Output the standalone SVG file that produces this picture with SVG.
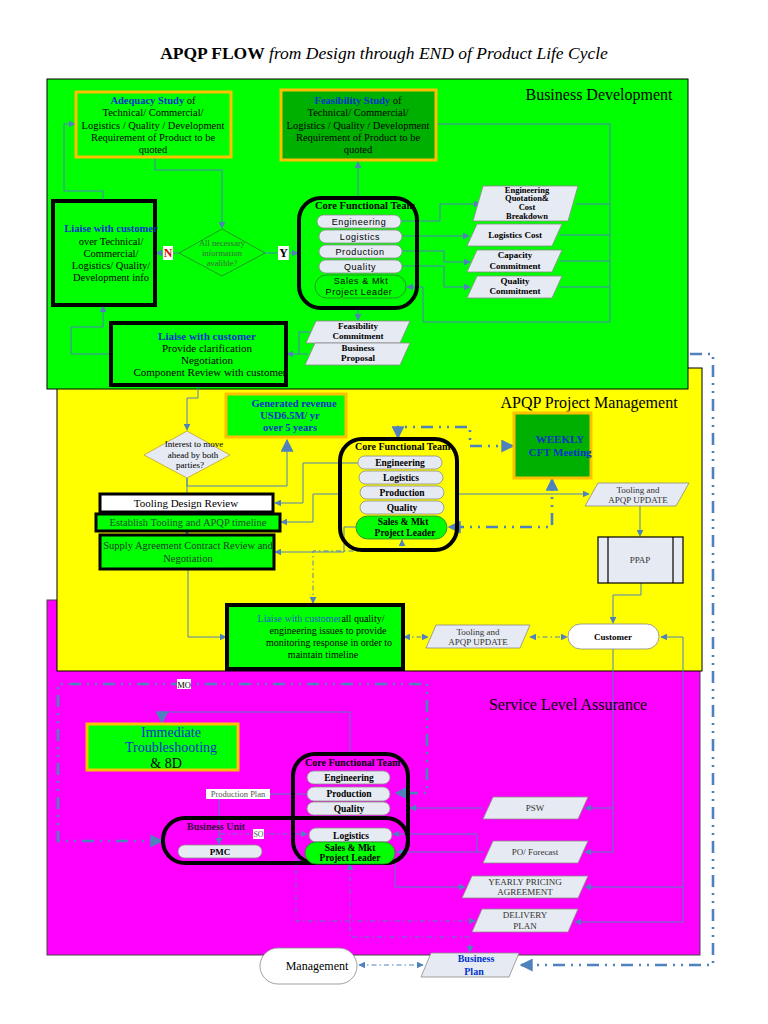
<svg xmlns="http://www.w3.org/2000/svg" width="768" height="1024" viewBox="0 0 768 1024">
<defs>
<style>
text{font-family:"Liberation Serif","Times New Roman",serif;fill:#000}
.ss{font-family:"Liberation Sans",Arial,sans-serif;letter-spacing:0.6px}
.m{text-anchor:middle}
.b{font-weight:bold}
.blue{fill:#0033CC}
.c{fill:none;stroke:#4F81BD;stroke-width:1}
.dd{stroke-dasharray:5 3 1.5 3}
.tk{stroke-width:2.6;stroke-dasharray:12 6 2 6 2 6}
.pill{fill:#E6EAF2;stroke:#8C8C8C;stroke-width:0.8}
.gp{fill:#00FF00;stroke:#2E7D32;stroke-width:0.8}
.par{fill:#E6EAF2;stroke:#8C8C8C;stroke-width:0.8}
.gold{stroke:#FFC000;stroke-width:3}
.blk{stroke:#000;stroke-width:4}
.team{fill:none;stroke:#000;stroke-width:4}
</style>
<marker id="a" viewBox="0 0 10 10" refX="9" refY="5" markerWidth="7" markerHeight="7" markerUnits="userSpaceOnUse" orient="auto-start-reverse"><path d="M0,0 L10,5 L0,10 z" fill="#4F81BD"/></marker>
<marker id="ab" viewBox="0 0 10 10" refX="9" refY="5" markerWidth="13" markerHeight="13" markerUnits="userSpaceOnUse" orient="auto-start-reverse"><path d="M0,0 L10,5 L0,10 z" fill="#4F81BD"/></marker>
</defs>
<rect width="768" height="1024" fill="#fff"/>

<text x="384" y="59" class="m" font-size="17.5"><tspan font-weight="bold">APQP FLOW</tspan><tspan font-style="italic"> from Design through END of Product Life Cycle</tspan></text>

<g id="regions">
<rect x="47" y="600" width="653" height="355" fill="#FF00FF" stroke="#444" stroke-width="1"/>
<rect x="57" y="368" width="645" height="303" fill="#FFFF00" stroke="#000" stroke-width="1"/>
<rect x="47" y="79" width="641" height="310" fill="#00FF00" stroke="#000" stroke-width="1"/>
<text x="599" y="100" class="m" font-size="16">Business Development</text>
<text x="589" y="408" class="m" font-size="16">APQP Project Management</text>
<text x="568" y="710" class="m" font-size="16">Service Level Assurance</text>
</g>

<g id="connectors">
<!-- Business Development -->
<path class="c" d="M155,158 V170 H222 V228" marker-end="url(#a)"/>
<path class="c" d="M103,201 V191 H64 V124 H75" marker-end="url(#a)"/>
<path class="c" d="M179,253 H156" marker-end="url(#a)"/>
<path class="c" d="M265,253 H298" marker-end="url(#a)"/>
<path class="c" d="M358,198 V162" marker-end="url(#a)"/>
<path class="c" d="M401,221 H440 V204 H480" marker-end="url(#a)"/>
<path class="c" d="M402,236 H469" marker-end="url(#a)"/>
<path class="c" d="M402,251 H444 V262 H470" marker-end="url(#a)"/>
<path class="c" d="M402,266 H444 V287 H470" marker-end="url(#a)"/>
<path class="c" d="M576,204 H610 M560,235 H610 M560,261 H610 M560,287 H610"/>
<path class="c" d="M436,124 H610 V322 H423 V287 H407" marker-end="url(#a)"/>
<path class="c" d="M358,308 V320" marker-end="url(#a)"/>
<path class="c" d="M311,332 H299 V354"/>
<path class="c" d="M308,354 H287" marker-end="url(#a)"/>
<path class="c" d="M110,354 H71 V327 H103 V306" marker-end="url(#a)"/>
<path class="c" d="M198,386 V398 H187 V430" marker-end="url(#a)"/>
<!-- APQP Project Management -->
<path class="c" d="M187,478 V486 H287 V440" stroke-width="3" marker-end="url(#ab)"/>
<path class="c" d="M187,478 V493"/>
<path class="c" d="M187,509 V515" marker-end="url(#a)"/>
<path class="c" d="M187,528 V535" marker-end="url(#a)"/>
<path class="c" d="M358,463 H303 V503 H275" marker-end="url(#a)"/>
<path class="c" d="M340,494 H313 V522 H281" marker-end="url(#a)"/>
<path class="c" d="M356,527 H344 V552 H275" marker-end="url(#a)"/>
<path class="c dd" d="M313,603 V551 H402 V540" marker-start="url(#a)" marker-end="url(#a)"/>
<path class="c" d="M457,494 H589" marker-end="url(#a)"/>
<path class="c tk" d="M398,438 V427 H470 V446 H513" marker-start="url(#ab)" marker-end="url(#ab)"/>
<path class="c tk" d="M552,479 V527 H449" marker-start="url(#ab)" marker-end="url(#ab)"/>
<path class="c" d="M640,506 V536" marker-end="url(#a)"/>
<path class="c" d="M641,583 V595 H613 V623" marker-end="url(#a)"/>
<path class="c" d="M188,569 V637 H226" marker-end="url(#a)"/>
<path class="c dd" d="M404,637 H428" marker-start="url(#a)" marker-end="url(#a)"/>
<path class="c dd" d="M530,637 H567" marker-start="url(#a)" marker-end="url(#a)"/>
<path class="c" d="M661,637 H683 V922 H575" marker-start="url(#a)" marker-end="url(#a)"/>
<path class="c" d="M683,887 H585" marker-end="url(#a)"/>
<path class="c" d="M613,649 V852 H585" marker-end="url(#a)"/>
<path class="c" d="M613,808 H585" marker-end="url(#a)"/>
<!-- Service Level Assurance -->
<path class="c tk" d="M162,841 H58 V684 H427 V793 H396" marker-start="url(#ab)" marker-end="url(#ab)"/>
<path class="c" d="M350,753 V712 H162 V723" stroke-width="4" marker-end="url(#ab)"/>
<path class="c" d="M307,794 H219 V844" marker-end="url(#a)"/>
<path class="c dd" d="M220,834 H307" marker-end="url(#a)"/>
<path class="c" d="M483,808 H410" marker-end="url(#a)"/>
<path class="c" d="M484,852 H397" marker-end="url(#a)"/>
<path class="c" d="M477,852 V834 H393" marker-end="url(#a)"/>
<path class="c" d="M395,863 V887 H465" marker-end="url(#a)"/>
<path class="c dd" d="M296,845 V921 H475" marker-end="url(#a)"/>
<path class="c dd" d="M350,864 V937 H470 V952" marker-start="url(#a)" marker-end="url(#a)"/>
<path class="c dd" d="M359,965 H423" stroke-width="1.5" marker-start="url(#a)" marker-end="url(#a)"/>
<path class="c tk" d="M690,354 H713 V965 H521" marker-end="url(#ab)"/>
</g>

<!-- Business Development nodes -->
<g id="adequacy">
<rect x="76" y="92" width="155" height="65" fill="#00FF00" class="gold"/>
<text class="m" font-size="10.5"><tspan x="153" y="103.5"><tspan class="b blue">Adequacy Study</tspan> of</tspan><tspan x="153" y="116">Technical/  Commercial/</tspan><tspan x="153" y="128.5">Logistics  / Quality / Development</tspan><tspan x="153" y="141">Requirement of Product to be</tspan><tspan x="153" y="152.5">quoted</tspan></text>
</g>
<g id="feasibility">
<rect x="281" y="90" width="155" height="70" fill="#00B000" class="gold"/>
<text class="m" font-size="10.5"><tspan x="358" y="103.5"><tspan class="b blue">Feasibility Study</tspan> of</tspan><tspan x="358" y="116">Technical/  Commercial/</tspan><tspan x="358" y="128.5">Logistics  / Quality / Development</tspan><tspan x="358" y="141">Requirement of Product to be</tspan><tspan x="358" y="152.5">quoted</tspan></text>
</g>
<g id="liaise-technical">
<rect x="53" y="201" width="102" height="104" fill="#00FF00" class="blk"/>
<text class="m" font-size="10.5"><tspan x="111" y="232" class="b blue">Liaise with customer</tspan><tspan x="111" y="245">over Technical/</tspan><tspan x="111" y="257">Commercial/</tspan><tspan x="111" y="269">Logistics/  Quality/</tspan><tspan x="111" y="281">Development info</tspan></text>
</g>
<g id="decision-info">
<polygon points="222,229 265,253 222,276 179,253" fill="none" stroke="#2E7D32" stroke-width="0.8"/>
<text class="m" font-size="8.5" style="fill:#3D6B3D"><tspan x="222" y="246">All necessary</tspan><tspan x="222" y="256">information</tspan><tspan x="222" y="266">avalible?</tspan></text>
<rect x="163" y="246" width="10" height="14" fill="#fff"/>
<text x="168" y="257" class="m b" font-size="12" style="fill:#E00000">N</text>
<rect x="278" y="246" width="11" height="14" fill="#fff"/>
<text x="283.5" y="257" class="m b" font-size="12">Y</text>
</g>
<g id="core-team-bd">
<rect x="299" y="198" width="118" height="110" rx="22" class="team"/>
<text x="315" y="209" class="b" font-size="10.5">Core Functional Team</text>
<rect x="317" y="215" width="84" height="13" rx="6.5" class="pill"/>
<rect x="319" y="230" width="83" height="13" rx="6.5" class="pill"/>
<rect x="319" y="245" width="83" height="13" rx="6.5" class="pill"/>
<rect x="319" y="260" width="83" height="13" rx="6.5" class="pill"/>
<rect x="315" y="275" width="91" height="23" rx="11.5" class="gp"/>
<text class="ss m" font-size="9"><tspan x="359" y="225">Engineering</tspan><tspan x="360" y="240">Logistics</tspan><tspan x="360" y="255">Production</tspan><tspan x="360" y="270">Quality</tspan><tspan x="361" y="284">Sales &amp; Mkt</tspan><tspan x="359" y="295">Project Leader</tspan></text>
</g>
<g id="eng-quotation">
<polygon points="483,186 578,186 568,221 473,221" class="par"/>
<text class="m b" font-size="8.5"><tspan x="527" y="193">Engineering</tspan><tspan x="527" y="201">Quotation&amp;</tspan><tspan x="527" y="210">Cost</tspan><tspan x="527" y="219">Breakdown</tspan></text>
</g>
<g id="logistics-cost">
<polygon points="477,224 562,224 552,246 467,246" class="par"/>
<text x="515" y="238" class="m b" font-size="9">Logistics Cost</text>
</g>
<g id="capacity-commitment">
<polygon points="477,250 562,250 552,272 467,272" class="par"/>
<text class="m b" font-size="9"><tspan x="515" y="258">Capacity</tspan><tspan x="515" y="269">Commitment</tspan></text>
</g>
<g id="quality-commitment">
<polygon points="477,276 562,276 552,298 467,298" class="par"/>
<text class="m b" font-size="9"><tspan x="515" y="284">Quality</tspan><tspan x="515" y="294">Commitment</tspan></text>
</g>
<g id="feasibility-commitment">
<polygon points="316,321 410,321 400,343 306,343" class="par"/>
<text class="m b" font-size="9"><tspan x="358" y="329">Feasibility</tspan><tspan x="358" y="339">Commitment</tspan></text>
</g>
<g id="business-proposal">
<polygon points="315,343 410,343 400,365 305,365" class="par"/>
<text class="m b" font-size="9"><tspan x="358" y="351">Business</tspan><tspan x="358" y="361">Proposal</tspan></text>
</g>
<g id="liaise-clarification">
<rect x="111" y="323" width="175" height="62" fill="#00FF00" class="blk"/>
<text class="m" font-size="11"><tspan x="207" y="340" class="b blue">Liaise with customer</tspan><tspan x="207" y="352">Provide clarification</tspan><tspan x="207" y="364">Negotiation</tspan><tspan x="210" y="376">Component Review with customer</tspan></text>
</g>

<!-- APQP Project Management nodes -->
<g id="generated-revenue">
<rect x="226" y="394" width="120" height="43" fill="#00FF00" class="gold"/>
<text class="m b blue" font-size="10.5"><tspan x="294" y="407">Generated revenue</tspan><tspan x="290" y="419">USD6.5M/ yr</tspan><tspan x="290" y="431">over 5 years</tspan></text>
</g>
<g id="decision-interest">
<polygon points="187,431 230,455 187,478 144,455" fill="#E6EAF2" stroke="#C0A030" stroke-width="0.8"/>
<text class="m" font-size="9"><tspan x="194" y="447">Interest to move</tspan><tspan x="193" y="458">ahead by both</tspan><tspan x="190" y="468">parties?</tspan></text>
</g>
<g id="tooling-design-review">
<rect x="100" y="494" width="173" height="18" fill="#fff" stroke="#000" stroke-width="3"/>
<text x="186" y="507" class="m" font-size="11">Tooling Design Review</text>
</g>
<g id="establish-timeline">
<rect x="96" y="514" width="184" height="17" fill="#00FF00" stroke="#000" stroke-width="3"/>
<text x="188" y="526" class="m" font-size="10.5" style="fill:#1B4D2E">Establish Tooling and APQP timeline</text>
</g>
<g id="supply-agreement">
<rect x="100" y="535" width="174" height="34" fill="#00FF00" stroke="#000" stroke-width="3"/>
<text class="m" font-size="10.5" style="fill:#1B3B2B"><tspan x="188" y="549">Supply Agreement Contract Review and</tspan><tspan x="188" y="562">Negotiation</tspan></text>
</g>
<g id="core-team-pm">
<rect x="340" y="439" width="117" height="111" rx="22" class="team"/>
<text x="355" y="450" class="b" font-size="10">Core Functional Team</text>
<rect x="358" y="456" width="84" height="13" rx="6.5" class="pill"/>
<rect x="359" y="471" width="84" height="13" rx="6.5" class="pill"/>
<rect x="360" y="486" width="84" height="13" rx="6.5" class="pill"/>
<rect x="360" y="501" width="84" height="13" rx="6.5" class="pill"/>
<rect x="356" y="516" width="91" height="23" rx="11.5" class="gp"/>
<text class="m b" font-size="9.5"><tspan x="400" y="466">Engineering</tspan><tspan x="401" y="481">Logistics</tspan><tspan x="402" y="496">Production</tspan><tspan x="402" y="511">Quality</tspan><tspan x="403" y="525">Sales &amp; Mkt</tspan><tspan x="405" y="536">Project Leader</tspan></text>
</g>
<g id="weekly-cft">
<rect x="514" y="413" width="77" height="65" fill="#00B000" class="gold"/>
<text class="m b blue" font-size="11"><tspan x="560" y="443">WEEKLY</tspan><tspan x="560" y="456">CFT Meeting</tspan></text>
</g>
<g id="tooling-update-1">
<polygon points="598,483 689,483 676,506 585,506" class="par"/>
<text class="m" font-size="9" style="fill:#333"><tspan x="638" y="493">Tooling and</tspan><tspan x="638" y="503">APQP UPDATE</tspan></text>
</g>
<g id="ppap">
<rect x="598" y="537" width="85" height="46" fill="#E6EAF2" stroke="#000" stroke-width="1.2"/>
<path d="M608,537 V583 M673,537 V583" stroke="#000" stroke-width="1.2"/>
<text x="640" y="563" class="m" font-size="9" style="fill:#333">PPAP</text>
</g>
<g id="liaise-quality">
<rect x="227" y="605" width="176" height="64" fill="#00FF00" class="blk"/>
<text class="m" font-size="10"><tspan x="321" y="622"><tspan style="fill:#1F5FBF">Liaise with customer</tspan>all quality/</tspan><tspan x="328" y="634">engineering issues to provide</tspan><tspan x="329" y="646">monitoring response in order to</tspan><tspan x="323" y="658">maintain timeline</tspan></text>
</g>
<g id="tooling-update-2">
<polygon points="436,625 530,625 520,648 426,648" class="par"/>
<text class="m" font-size="9" style="fill:#333"><tspan x="478" y="635">Tooling and</tspan><tspan x="478" y="645">APQP UPDATE</tspan></text>
</g>
<g id="customer">
<rect x="568" y="624" width="91" height="25" rx="12.5" fill="#fff" stroke="#888" stroke-width="0.8"/>
<text x="613" y="640" class="m b" font-size="9">Customer</text>
</g>

<!-- Service Level Assurance nodes -->
<g id="mo-label">
<rect x="177" y="679" width="14" height="10" fill="#fff"/>
<text x="184" y="687.5" class="m" font-size="8.5">MO</text>
</g>
<g id="troubleshooting">
<rect x="87" y="724" width="151" height="46" fill="#00FF00" class="gold"/>
<text class="m" font-size="14"><tspan x="171" y="737" class="blue">Immediate</tspan><tspan x="171" y="752" class="blue">Troubleshooting</tspan><tspan x="166" y="768">&amp; 8D</tspan></text>
</g>
<g id="business-unit">
<rect x="163" y="818" width="245" height="45" rx="22" class="team"/>
<text x="187" y="830" class="b" font-size="10" style="fill:#3A003A">Business Unit</text>
<rect x="178" y="845" width="84" height="13" rx="6.5" class="pill"/>
<text x="220" y="855" class="m b" font-size="9">PMC</text>
</g>
<g id="core-team-sla">
<rect x="293" y="754" width="115" height="109" rx="22" class="team"/>
<text x="305" y="766" class="b" font-size="10">Core Functional Team</text>
<rect x="307" y="771" width="83" height="13" rx="6.5" class="pill"/>
<rect x="307" y="787" width="83" height="14" rx="7" class="pill"/>
<rect x="307" y="802" width="83" height="13" rx="6.5" class="pill"/>
<rect x="309" y="828" width="83" height="14" rx="7" class="pill"/>
<rect x="305" y="842" width="90" height="22" rx="11" class="gp"/>
<text class="m b" font-size="9.5"><tspan x="349" y="781">Engineering</tspan><tspan x="349" y="797">Production</tspan><tspan x="349" y="812">Quality</tspan><tspan x="351" y="839">Logistics</tspan><tspan x="350" y="851">Sales &amp; Mkt</tspan><tspan x="350" y="861">Project Leader</tspan></text>
</g>
<g id="production-plan-label">
<rect x="206" y="789" width="64" height="10" fill="#fff"/>
<text x="238" y="797" class="m" font-size="8.5" style="fill:#555">Production Plan</text>
</g>
<g id="so-label">
<rect x="253" y="829" width="11" height="10" fill="#fff"/>
<text x="258.5" y="837" class="m" font-size="8" style="fill:#555">SO</text>
</g>
<g id="psw">
<polygon points="493,797 588,797 578,819 483,819" class="par"/>
<text x="535" y="811" class="m" font-size="9" style="fill:#333">PSW</text>
</g>
<g id="po-forecast">
<polygon points="493,841 588,841 578,863 483,863" class="par"/>
<text x="535" y="855" class="m" font-size="9" style="fill:#333">PO/ Forecast</text>
</g>
<g id="yearly-pricing">
<polygon points="472,876 588,876 578,898 462,898" class="par"/>
<text class="m" font-size="9" style="fill:#333"><tspan x="525" y="885">YEARLY PRICING</tspan><tspan x="525" y="895">AGREEMENT</tspan></text>
</g>
<g id="delivery-plan">
<polygon points="482,909 578,909 568,932 472,932" class="par"/>
<text class="m" font-size="9" style="fill:#333"><tspan x="525" y="918">DELIVERY</tspan><tspan x="525" y="929">PLAN</tspan></text>
</g>
<g id="management">
<rect x="260" y="948" width="97" height="36" rx="18" fill="#fff" stroke="#888" stroke-width="0.8"/>
<text x="317" y="970" class="m" font-size="12">Management</text>
</g>
<g id="business-plan">
<polygon points="431,953 519,953 509,977 421,977" class="par"/>
<text class="m b blue" font-size="10"><tspan x="476" y="962">Business</tspan><tspan x="474" y="975">Plan</tspan></text>
</g>
</svg>
